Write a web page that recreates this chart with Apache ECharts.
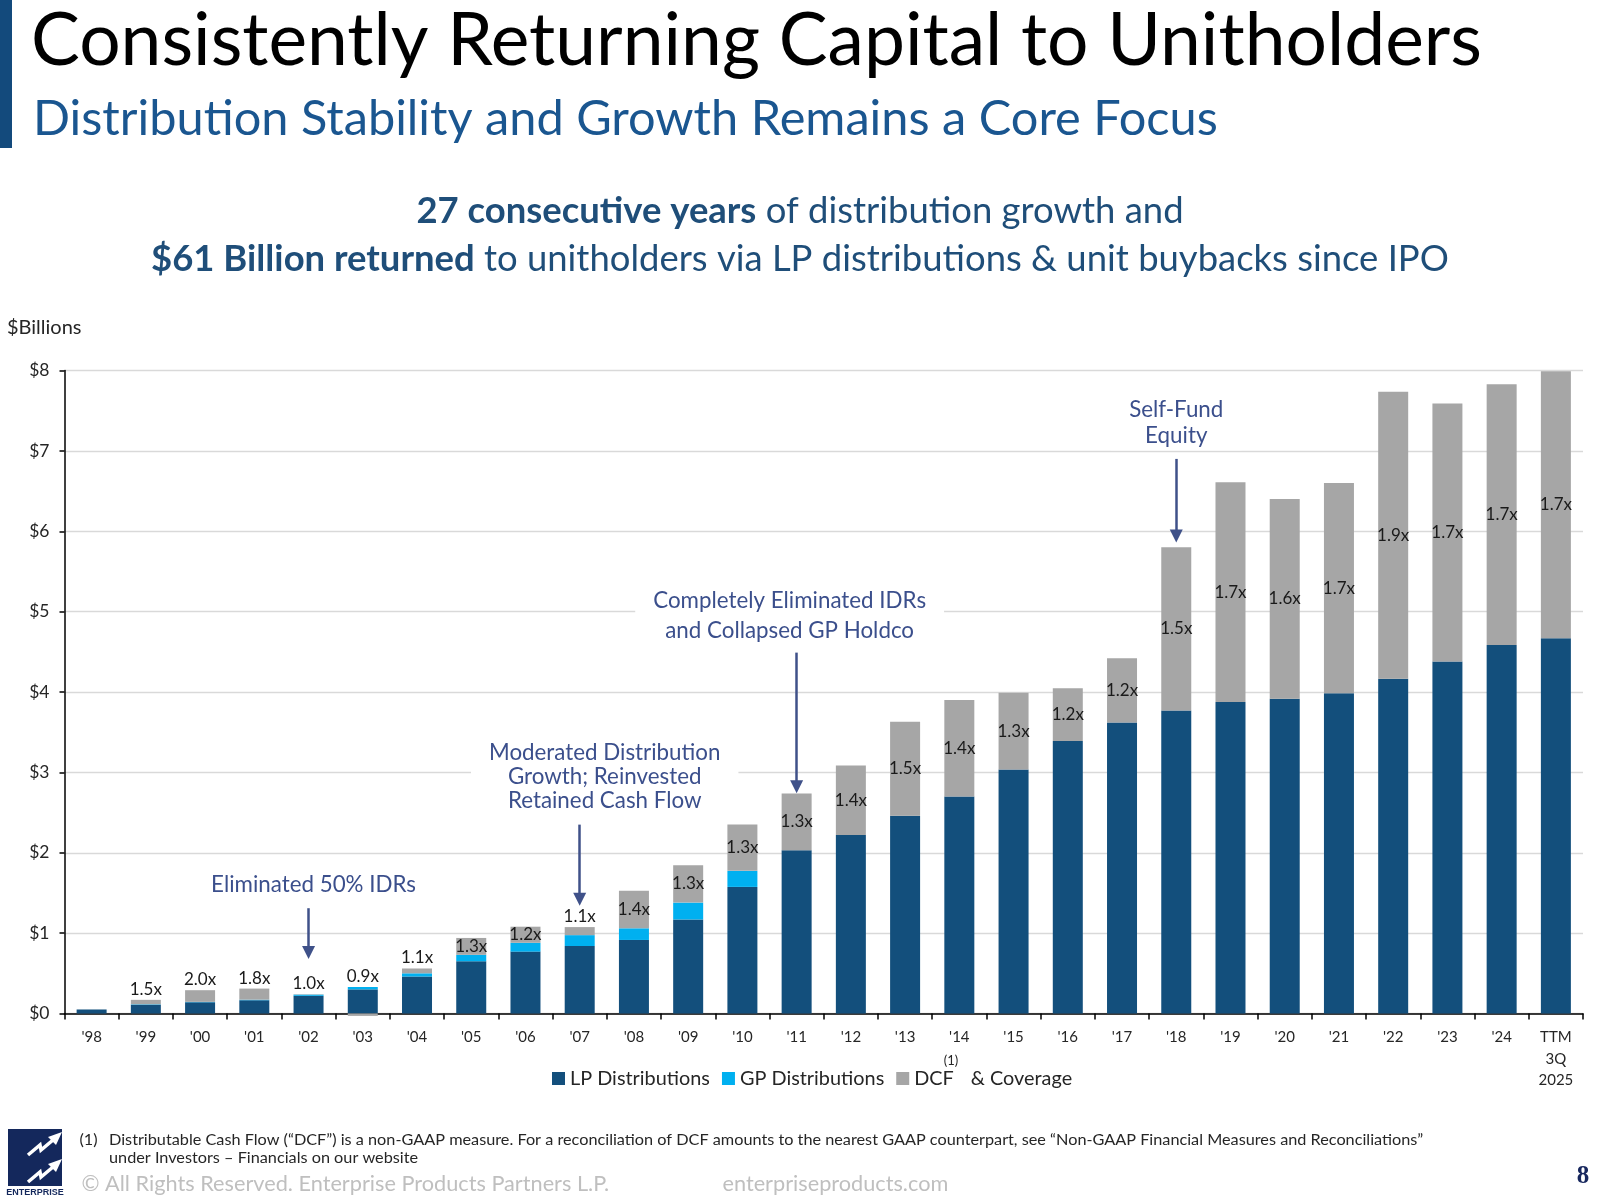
<!DOCTYPE html>
<html>
<head>
<meta charset="utf-8">
<script src="https://cdn.jsdelivr.net/npm/echarts@6/dist/echarts.min.js"></script>
<style>
  html, body { margin: 0; padding: 0; background: #fff; }
  #chart { width: 1600px; height: 1198px; }
</style>
</head>
<body>
<div id="chart"></div>
<script>
// values, $ billions
const years = ["'98", "'99", "'00", "'01", "'02", "'03", "'04", "'05", "'06", "'07", "'08", "'09", "'10", "'11",
  "'12", "'13", "'14", "'15", "'16", "'17", "'18", "'19", "'20", "'21", "'22", "'23", "'24", "TTM\n3Q\n2025"]
const lpDistributions = [0.05, 0.11, 0.14, 0.165, 0.22, 0.30, 0.46, 0.65, 0.77, 0.84, 0.915, 1.17, 1.575, 2.03,
  2.22, 2.46, 2.70, 3.035, 3.39, 3.62, 3.77, 3.875, 3.915, 3.985, 4.165, 4.38, 4.585, 4.67]
const gpDistributions = [0, 0.005, 0.005, 0.007, 0.015, 0.03, 0.04, 0.08, 0.11, 0.135, 0.145, 0.21, 0.2, 0,
  0, 0, 0, 0, 0, 0, 0, 0, 0, 0, 0, 0, 0, 0]
// DCF above total distributions (gray part of the stack)
const dcfExcess = [0, 0.055, 0.145, 0.138, 0.005, -0.03, 0.06, 0.21, 0.2, 0.1, 0.466, 0.466, 0.575, 0.706,
  0.865, 1.17, 1.2, 0.955, 0.656, 0.8, 2.03, 2.735, 2.485, 2.615, 3.57, 3.21, 3.245, 3.32]
const coverage = ["", "1.5x", "2.0x", "1.8x", "1.0x", "0.9x", "1.1x", "1.3x", "1.2x", "1.1x", "1.4x", "1.3x", "1.3x", "1.3x",
  "1.4x", "1.5x", "1.4x", "1.3x", "1.2x", "1.2x", "1.5x", "1.7x", "1.6x", "1.7x", "1.9x", "1.7x", "1.7x", "1.7x"]
const yTicks = [0, 1, 2, 3, 4, 5, 6, 7, 8]

const noteTexts = [
  "Eliminated 50% IDRs",
  "Moderated Distribution\nGrowth; Reinvested\nRetained Cash Flow",
  "Completely Eliminated IDRs\nand Collapsed GP Holdco",
  "Self-Fund\nEquity"
]

const titleText = "Consistently Returning Capital to Unitholders"
const subtitleText = "Distribution Stability and Growth Remains a Core Focus"
const headline1 = ["27 consecutive years", " of distribution growth and"]
const headline2 = ["$61 Billion returned", " to unitholders via LP distributions & unit buybacks since IPO"]
const footLine1 = "Distributable Cash Flow (\u201cDCF\u201d) is a non-GAAP measure. For a reconciliation of DCF amounts to the nearest GAAP counterpart, see \u201cNon-GAAP Financial Measures and Reconciliations\u201d"
const footLine2 = "under Investors \u2013 Financials on our website"
const copyText = "\u00a9 All Rights Reserved. Enterprise Products Partners L.P."
const siteText = "enterpriseproducts.com"

const font = 'Lato, "Open Sans", sans-serif'
const navy = "#1f4e79"
const noteColor = "#3b4f8c"
const textColor = "#262626"

const measure = document.createElement("canvas").getContext("2d")
function textWidth(text, weight) {
  measure.font = weight + " 100px " + font
  return measure.measureText(text).width / 100
}
function fitSize(parts, width) {
  let w = 0
  parts.forEach(([t, wt]) => { w += textWidth(t, wt) })
  return width / w
}

const titleSize = fitSize([[titleText, "normal"]], 1451)
const subtitleSize = fitSize([[subtitleText, "normal"]], 1185)
const headSize = fitSize([[headline2[0], "bold"], [headline2[1], "normal"]], 1298)
const noteSize = fitSize([["Completely Eliminated IDRs", "normal"]], 273)
const legendSize = fitSize([["LP Distributions", "normal"]], 140)
const footSize = fitSize([[footLine1, "normal"]], 1315)
const copySize = fitSize([[copyText, "normal"]], 528)

function coverageLabel(i, position) {
  return {
    show: true,
    position: position,
    distance: 2,
    formatter: coverage[i],
    fontFamily: font,
    fontSize: 17,
    color: "#1a1a1a"
  }
}

const dcfData = dcfExcess.map((v, i) => {
  if (!coverage[i] || v < 0) return v
  return { value: v, label: coverageLabel(i, v > 0.18 ? "inside" : "top") }
})
const gpData = gpDistributions.map((v, i) => {
  if (coverage[i] && dcfExcess[i] < 0) return { value: v, label: coverageLabel(i, "top") }
  return v
})

function headlineText(parts) {
  return "{b|" + parts[0] + "}" + parts[1]
}

function bolt(dy) {
  return [
    { type: "polyline", shape: { points: [[20, 26 + dy], [32, 16 + dy], [33, 21 + dy], [45, 11 + dy]] },
      style: { stroke: "#fff", lineWidth: 3.5, fill: null } },
    { type: "polygon", shape: { points: [[40, 8 + dy], [54, 3 + dy], [48, 16 + dy]] }, style: { fill: "#fff" } }
  ]
}

const chart = echarts.init(document.getElementById("chart"))

chart.setOption({
  animation: false,
  textStyle: { fontFamily: font },
  grid: { left: 64.5, right: 17, top: 370.5, bottom: 184.5, containLabel: false, outerBoundsMode: "none" },
  legend: {
    left: 552,
    top: 1068.5,
    padding: 0,
    itemGap: 12,
    itemWidth: 13,
    itemHeight: 13,
    icon: "rect",
    data: ["LP Distributions", "GP Distributions", "DCF & Coverage"],
    formatter: (name) => (name === "DCF & Coverage" ? "DCF{gap| }& Coverage" : name),
    textStyle: {
      fontFamily: font,
      fontSize: legendSize,
      lineHeight: 20,
      color: textColor,
      rich: { gap: { width: 17, fontSize: legendSize, lineHeight: 20 } }
    }
  },
  xAxis: {
    type: "category",
    data: years,
    axisLine: { lineStyle: { color: "#000", width: 1.5 } },
    axisTick: { show: true, interval: 0, length: 6, lineStyle: { color: "#000", width: 1.5 } },
    axisLabel: { interval: 0, margin: 13, color: textColor, fontFamily: font, fontSize: 15, lineHeight: 21.5 }
  },
  yAxis: {
    type: "value",
    min: yTicks[0],
    max: yTicks[yTicks.length - 1],
    interval: 1,
    axisLine: { show: true, lineStyle: { color: "#000", width: 1.5 } },
    axisTick: { show: true, length: 5, lineStyle: { color: "#000", width: 1.5 } },
    axisLabel: { margin: 15, formatter: "${value}", color: textColor, fontFamily: font, fontSize: 17.5 },
    splitLine: { lineStyle: { color: "#d9d9d9", width: 1.3 } }
  },
  series: [
    {
      name: "LP Distributions",
      type: "bar",
      stack: "total",
      barWidth: 30,
      data: lpDistributions,
      itemStyle: { color: "#134f7c" }
    },
    {
      name: "GP Distributions",
      type: "bar",
      stack: "total",
      barWidth: 30,
      data: gpData,
      itemStyle: { color: "#00b0f0" }
    },
    {
      name: "DCF & Coverage",
      type: "bar",
      stack: "total",
      barWidth: 30,
      clip: false,
      data: dcfData,
      itemStyle: { color: "#a6a6a6" }
    },
    {
      name: "notes",
      type: "line",
      data: [],
      markLine: {
        silent: true,
        symbol: ["none", "triangle"],
        symbolSize: 13,
        label: { show: false },
        lineStyle: { color: "#3f5189", width: 2.5, type: "solid" },
        data: [
          [{ coord: ["'02", 1.31] }, { coord: ["'02", 0.76] }],
          [{ coord: ["'07", 2.35] }, { coord: ["'07", 1.42] }],
          [{ coord: ["'11", 4.49] }, { coord: ["'11", 2.82] }],
          [{ coord: ["'18", 6.90] }, { coord: ["'18", 5.94] }]
        ]
      },
      markPoint: {
        silent: true,
        symbol: "rect",
        symbolSize: 1,
        itemStyle: { color: "rgba(0,0,0,0)" },
        label: {
          show: true,
          position: "inside",
          color: noteColor,
          fontFamily: font,
          fontSize: noteSize,
          lineHeight: 24,
          backgroundColor: "#fff",
          padding: [2, 18]
        },
        data: [
          { coord: ["'02", 1.60], label: { formatter: noteTexts[0], offset: [5, 0] } },
          { coord: ["'07", 2.95], label: { formatter: noteTexts[1], offset: [25, 0] } },
          { coord: ["'11", 4.95], label: { formatter: noteTexts[2], offset: [-7, 0], lineHeight: 29.5 } },
          { coord: ["'18", 7.35], label: { formatter: noteTexts[3], lineHeight: 25.5 } }
        ]
      }
    }
  ],
  graphic: [
    { type: "rect", shape: { x: 0, y: 0, width: 12, height: 148 }, style: { fill: "#134a7c" } },
    { type: "text", x: 31, y: 41, style: { text: titleText, font: titleSize + "px " + font, fill: "#000", verticalAlign: "middle" } },
    { type: "text", x: 33, y: 119, style: { text: subtitleText, font: subtitleSize + "px " + font, fill: "#1a5690", verticalAlign: "middle" } },
    {
      type: "text", x: 800, y: 211,
      style: {
        text: headlineText(headline1), font: headSize + "px " + font, fill: navy, align: "center", verticalAlign: "middle",
        rich: { b: { font: "bold " + headSize + "px " + font, fill: navy } }
      }
    },
    {
      type: "text", x: 800, y: 259,
      style: {
        text: headlineText(headline2), font: headSize + "px " + font, fill: navy, align: "center", verticalAlign: "middle",
        rich: { b: { font: "bold " + headSize + "px " + font, fill: navy } }
      }
    },
    { type: "text", x: 7, y: 327.5, style: { text: "$Billions", font: "20px " + font, fill: textColor, verticalAlign: "middle" } },
    { type: "text", x: 951, y: 1061, style: { text: "(1)", font: "13px " + font, fill: textColor, align: "center", verticalAlign: "middle" } },
    { type: "text", x: 79.5, y: 1140, style: { text: "(1)", font: footSize + "px " + font, fill: textColor, verticalAlign: "middle" } },
    { type: "text", x: 109, y: 1140, style: { text: footLine1, font: footSize + "px " + font, fill: textColor, verticalAlign: "middle" } },
    { type: "text", x: 109, y: 1158, style: { text: footLine2, font: footSize + "px " + font, fill: textColor, verticalAlign: "middle" } },
    { type: "text", x: 81.5, y: 1184, style: { text: copyText, font: copySize + "px " + font, fill: "#bfbfbf", verticalAlign: "middle" } },
    { type: "text", x: 722.5, y: 1184, style: { text: siteText, font: copySize + "px " + font, fill: "#bfbfbf", verticalAlign: "middle" } },
    { type: "text", x: 1583, y: 1177, style: { text: "8", font: 'bold 25px "Liberation Serif", serif', fill: "#17275e", align: "center", verticalAlign: "middle" } },
    {
      type: "group", x: 8, y: 1129,
      children: [
        { type: "rect", shape: { x: 0, y: 0, width: 54, height: 57 }, style: { fill: "#14285c" } },
        ...bolt(0),
        ...bolt(27),
        { type: "text", x: 27, y: 64, style: { text: "ENTERPRISE", font: 'bold 9px "Liberation Sans Narrow", "Liberation Sans", sans-serif', fill: "#14285c", align: "center", verticalAlign: "middle" } }
      ]
    }
  ]
})
</script>
</body>
</html>
